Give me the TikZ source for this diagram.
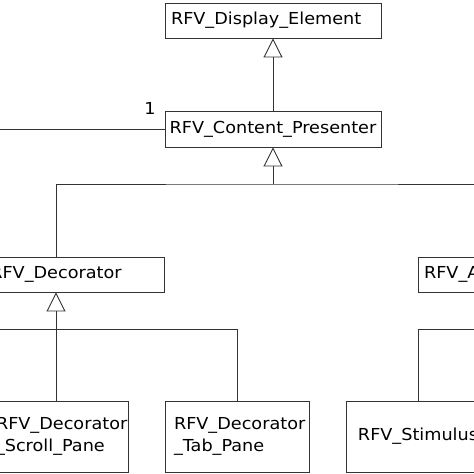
\documentclass[tikz,border=0pt]{standalone}
\usepackage{fontspec}
\setmainfont{DejaVu Sans}[FakeStretch=1.07]
\usepackage{tikz}
\usetikzlibrary{arrows.meta}

\tikzset{
  cls/.style={draw, rectangle, inner sep=0pt, align=center,
    font=\fontsize{16.5}{22}\selectfont},
  wide/.style={cls, minimum width=216, minimum height=35},
  tall/.style={cls, minimum width=144, minimum height=71, align=left},
  inh/.style={-{Triangle[open, length=19pt, width=19pt]}}
}

\begin{document}
\begin{tikzpicture}[x=1pt, y=-1pt, line width=0.9pt, draw=black!80]
        \useasboundingbox (0,0) rectangle (474,474);
        \clip (0,0) rectangle (474,474);

        % top of the hierarchy
        \node[wide, text width=204, align=left] (D1) at (273, 20.5) {RFV\_Display\_Element};
        \node[wide, minimum height=36] (P1) at (273, 129) {RFV\_Content\_Presenter};

        % second level
        \node[wide] (C1) at (56, 274.5) {RFV\_Decorator};
        \node[wide, text width=204, align=left] (C2) at (526, 274.5) {RFV\_A};

        % leaves
        \node[tall, text width=120] (S1) at (56, 436.5) {RFV\_Decorator\\\_Scroll\_Pane};
        \node[tall, text width=126] (S2) at (237, 436.5) {RFV\_Decorator\\\_Tab\_Pane};
        \node[tall] (S3) at (418, 436.5) {RFV\_Stimulus};

        % free ends and joints
        \coordinate (E1) at (-20, 129);
        \coordinate (J1) at (273, 184);
        \coordinate (J2) at (56, 329);
        \coordinate (E2) at (-20, 329);
        \coordinate (J3) at (526, 329);

        \node[font=\fontsize{16.5}{22}\selectfont] (L1) at (150, 108) {1};

        \draw[inh] (P1.north) to (D1.south);
        \draw (E1) to (P1.west);

        \draw (C1.north) |- (J1) -| (C2.north);
        \draw[inh] (J1) to (P1.south);

        \draw (E2) -| (S2.north);
        \draw (S1.north) to (J2);
        \draw[inh] (J2) to (C1.south);
        \draw (S3.north) |- (J3);
        \draw[inh] (J3) to (C2.south);
    \end{tikzpicture}
\end{document}
